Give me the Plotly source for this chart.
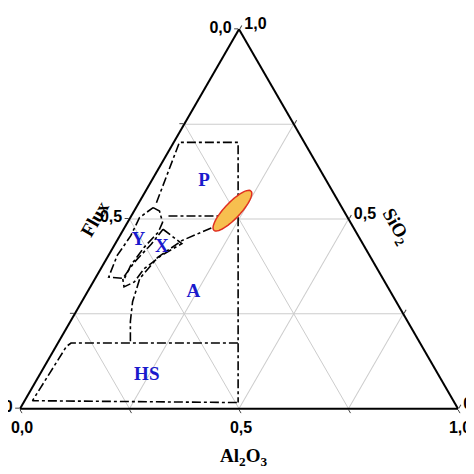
import numpy as np
import plotly.graph_objects as go

# ternary coords: a = SiO2 (top), b = Flux (left), c = Al2O3 (right)
p_sio2 = [0.543, 0.702, 0.702, 0.016]
p_al2o3 = [0.040, 0.013, 0.147, 0.490]
pb_sio2 = [0.508, 0.508]
pb_al2o3 = [0.085, 0.244]
hs_sio2 = [0.173, 0.173, 0.164, 0.021, 0.016]
hs_al2o3 = [0.411, 0.030, 0.024, 0.018, 0.494]
a_sio2 = [0.178, 0.230, 0.282, 0.343, 0.399, 0.443, 0.478]
a_al2o3 = [0.163, 0.137, 0.116, 0.102, 0.115, 0.148, 0.201]
y_sio2 = [0.530, 0.521, 0.491, 0.465, 0.426, 0.378, 0.343, 0.347, 0.404, 0.456, 0.504, 0.530]
y_al2o3 = [0.039, 0.058, 0.080, 0.083, 0.071, 0.064, 0.067, 0.029, 0.020, 0.025, 0.021, 0.039]
x_sio2 = [0.473, 0.435, 0.404, 0.369, 0.334, 0.321, 0.343, 0.386, 0.434, 0.473]
x_al2o3 = [0.090, 0.152, 0.121, 0.099, 0.094, 0.077, 0.063, 0.068, 0.083, 0.090]
labels = ["<b>P</b>", "<b>Y</b>", "<b>X</b>", "<b>A</b>", "<b>HS</b>"]
lab_sio2 = [0.60, 0.444, 0.426, 0.308, 0.089]
lab_al2o3 = [0.12, 0.048, 0.111, 0.242, 0.245]
ell_center = (0.522, 0.224)
ell_long = (0.052, 0.016)
ell_short = (-0.013, 0.0205)

fig = go.Figure()

def add_line(sio2, al2o3):
    sio2 = np.array(sio2); al2o3 = np.array(al2o3)
    fig.add_trace(go.Scatterternary(a=sio2, b=1 - sio2 - al2o3, c=al2o3, mode="lines",
                                    line=dict(color="black", width=1.6, dash="dashdot"),
                                    hoverinfo="skip", showlegend=False))

add_line(p_sio2, p_al2o3)
add_line(pb_sio2, pb_al2o3)
add_line(hs_sio2, hs_al2o3)
add_line(a_sio2, a_al2o3)
add_line(y_sio2, y_al2o3)
add_line(x_sio2, x_al2o3)

t = np.linspace(0, 2 * np.pi, 60)
ea = ell_center[0] + ell_long[0] * np.cos(t) + ell_short[0] * np.sin(t)
ec = ell_center[1] + ell_long[1] * np.cos(t) + ell_short[1] * np.sin(t)
fig.add_trace(go.Scatterternary(a=ea, b=1 - ea - ec, c=ec, mode="lines", fill="toself",
                                fillcolor="#f7bf4f", line=dict(color="#e03020", width=1.5),
                                showlegend=False))

la = np.array(lab_sio2); lc = np.array(lab_al2o3)
fig.add_trace(go.Scatterternary(a=la, b=1 - la - lc, c=lc, mode="text", text=labels,
                                textfont=dict(family="Liberation Serif", size=19, color="#1a1acc"),
                                showlegend=False))

ticks = [0, 0.25, 0.5, 0.75, 1]
ttext = ["<b>1,0</b>", "", "<b>0,5</b>", "", "<b>0,0</b>"]
def ax():
    return dict(tickvals=ticks, ticktext=ttext, showgrid=True, gridcolor="#cccccc",
                linecolor="black", linewidth=2, ticks="outside", ticklen=4,
                tickfont=dict(family="Arial", size=16, color="black"), title=dict(text=""))

fig.update_layout(
    width=474, height=474, margin=dict(l=12, r=24, t=14, b=66),
    paper_bgcolor="white",
    ternary=dict(bgcolor="white", aaxis=ax(), baxis=ax(), caxis=ax()),
    annotations=[
        dict(text="<b>Flux</b>", x=0.121, y=0.50, xref="paper", yref="paper", showarrow=False,
             textangle=-60, font=dict(family="Liberation Serif", size=19, color="black")),
        dict(text="<b>SiO<sub>2</sub></b>", x=0.91, y=0.48, xref="paper", yref="paper", showarrow=False,
             textangle=60, font=dict(family="Liberation Serif", size=19, color="black")),
        dict(text="<b>Al<sub>2</sub>O<sub>3</sub></b>", x=0.51, y=-0.14, xref="paper", yref="paper",
             showarrow=False, font=dict(family="Liberation Serif", size=19, color="black")),
    ],
)
fig.write_html("out.html")
